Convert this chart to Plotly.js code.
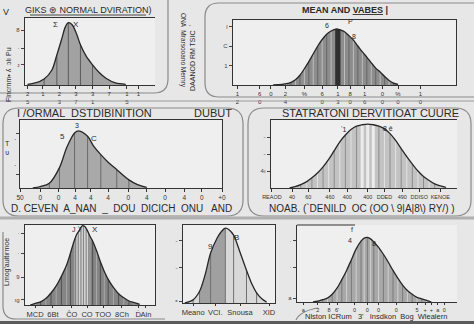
<!DOCTYPE html>
<html><head><meta charset="utf-8">
<script src="https://cdn.plot.ly/plotly-3.0.1.min.js"></script>
<style>html,body{margin:0;padding:0;background:#e7e7e7;}#chart{width:474px;height:324px;}</style>
</head><body><div id="chart"></div>
<script>
// ---------------- data ----------------
const aX=[0,0.6,1.3,1.9,2.3,2.7,2.95,3.2,3.5,3.85,4.15,4.6,5.1,5.6,6.15,6.9,7.7];
const aY=[0.01,0.03,0.09,0.22,0.45,0.7,0.86,0.93,0.9,0.76,0.6,0.43,0.3,0.19,0.1,0.03,0.01];
const aLines=[1.3,2.3,3.2,4.15,5.1];
const aTicks=[0,1.2,2.5,3.8,5.1,6.4,7.8,8.7];
const aTickText=['2<br>5','1','2<br>3','3<br>7','3<br>1','7','1<br>5','1'];

const bX=[1.8,2.0,2.2,2.4,2.6,2.8,3.0,3.2,3.4,3.6,3.8,4.0,4.2,4.4,4.6,4.7,4.8,5.0,5.2,5.4,5.6,5.8,6.0,6.2,6.4,6.6,6.8,7.0,7.2,7.4];
const bY=[0.0,0.005,0.01,0.02,0.04,0.08,0.15,0.25,0.36,0.48,0.6,0.7,0.78,0.83,0.86,0.86,0.85,0.82,0.76,0.69,0.6,0.51,0.43,0.34,0.26,0.2,0.13,0.07,0.03,0.01];
const bBand=[4.7];
const bTicks=[0.2,1.2,1.7,2.35,3.2,4.0,4.7,5.25,5.9,6.7,7.4,8.4];
const bTickText=['1<br>2','6<br>0','0','2<br>4','%','6<br>0','1<br>3','8<br>0','1<br>6','0<br>0','%<br>0','1<br>0'];

const cX=[0.7,1.1,1.6,2.15,2.55,2.97,3.2,3.68,4.0,4.4,4.8,5.27,5.93,6.4,6.9];
const cY=[0.0,0.02,0.07,0.3,0.6,0.81,0.84,0.76,0.62,0.49,0.38,0.27,0.12,0.05,0.01];
const cLines=[1.6,2.15,2.97,3.68,4.4,5.27,5.93];
const cTicks=[0,1.1,2.1,3,3.85,4.8,5.9,6.9,7.9,8.95,9.9,11];
const cTickText=['50','0','0','4','4','4','0','4','0','4','0','+0'];

const dX=[1.0,1.3,1.6,1.9,2.2,2.5,2.8,3.1,3.4,3.7,4.0,4.3,4.6,4.9,5.2,5.5,5.8,6.1,6.4,6.7,7.0,7.3,7.6,7.9,8.2,8.5,8.8,9.1,9.4];
const dY=[0.0,0.02,0.05,0.09,0.15,0.22,0.31,0.42,0.55,0.68,0.78,0.86,0.91,0.93,0.94,0.93,0.91,0.87,0.8,0.7,0.58,0.46,0.35,0.25,0.17,0.11,0.06,0.03,0.01];
const dTicks=[0.05,1.13,2.0,3.17,4.1,5.2,6.1,7.06,7.97,9.1];
const dTickText=['REAOD','40','60','460','400','400','DDED','490','DDISO','KENOE'];

const eX=[0.4,0.8,1.2,1.6,2.0,2.4,2.8,3.2,3.5,3.8,4.0,4.2,4.4,4.6,4.8,5.0,5.2,5.5,5.8,6.1,6.4,6.8,7.2,7.6,8.0,8.4,8.8];
const eY=[0.0,0.02,0.04,0.08,0.15,0.24,0.36,0.5,0.65,0.81,0.89,0.94,0.99,0.98,0.93,0.86,0.8,0.68,0.54,0.42,0.32,0.22,0.14,0.09,0.05,0.03,0.01];
const eTicks=[0.77,2.15,3.6,4.77,6.0,7.46,8.7,9.3];
const eTickText=['MCD','6Bt','ĈO','CO','TOO','8Ch','Ḋ','Ain'];

const fX=[0.2,1.1,1.8,2.4,3.0,3.7,4.2,4.6,5.0,5.5,6.2,6.9,7.5,8.0,8.6,9.1];
const fY=[0.0,0.04,0.15,0.36,0.64,0.83,0.92,0.96,0.94,0.87,0.65,0.42,0.24,0.13,0.05,0.01];
const fDarkX=[1.8,2.4,3.0,3.7,4.2,4.6];
const fLines=[1.1,1.8,3.0,4.6,5.5,6.9,8.0];
const fTicks=[1.1,3.5,6.2,9.35];
const fTickText=['Meano','VCI.','Snousa','XID'];

const gX=[1.0,1.3,1.6,1.9,2.2,2.5,2.8,3.1,3.4,3.7,4.0,4.2,4.4,4.6,4.8,5.1,5.4,5.7,6.0,6.3,6.6,6.9,7.2,7.5,7.8,8.1,8.4];
const gY=[0.0,0.01,0.03,0.05,0.1,0.18,0.29,0.41,0.55,0.69,0.79,0.83,0.84,0.82,0.78,0.71,0.62,0.52,0.41,0.31,0.22,0.15,0.1,0.06,0.04,0.02,0.0];
const gTicks=[0.4,1.3,2.0,2.5,3.6,4.4,5.1,6.2,7.5,8.0,8.4,8.8,9.2];
const gTickText=['a','2','8','6\'','0','0','0','0','5','+','+','a','0'];

// ---------------- helpers ----------------
const W=474,H=324,FONT='Liberation Sans, Arial, sans-serif';
const px=x=>x/W, py=y=>1-y/H;
const axn=(k,n)=>k+(n===1?'':n);

function fillTrace(X,Y,n,color){
  return {type:'scatter',mode:'lines',x:X,y:Y,xaxis:axn('x',n),yaxis:axn('y',n),
    line:{shape:'spline',smoothing:0.9,color:'rgba(0,0,0,0)',width:0},fill:'tozeroy',fillcolor:color,hoverinfo:'skip'};
}
function outline(X,Y,n){
  return {type:'scatter',mode:'lines',x:X,y:Y,xaxis:axn('x',n),yaxis:axn('y',n),
    line:{shape:'spline',smoothing:0.9,color:'#262626',width:1.3},hoverinfo:'skip'};
}
function stripes(xs,X,Y,n,color,w){
  const sx=[],sy=[];
  xs.forEach(v=>{const i=X.indexOf(v); if(i<0)return; sx.push(v,v,null); sy.push(0,Y[i],null);});
  return {type:'scatter',mode:'lines',x:sx,y:sy,xaxis:axn('x',n),yaxis:axn('y',n),
    line:{color:color,width:w},hoverinfo:'skip',connectgaps:false};
}
const every=(X,k,o)=>X.filter((v,i)=>i%k===o);
const between=(X,lo,hi)=>X.filter(v=>v>=lo&&v<=hi);

const traces=[
  fillTrace(aX,aY,1,'#a2a2a2'), stripes(aLines,aX,aY,1,'#5a5a5a',1), outline(aX,aY,1),
  fillTrace(bX,bY,2,'#8d8d8d'), stripes(every(bX,2,0),bX,bY,2,'#666',1), stripes(every(bX,2,1),bX,bY,2,'#bdbdbd',1),
  stripes(bBand,bX,bY,2,'#2f2f2f',5), outline(bX,bY,2),
  fillTrace(cX,cY,3,'#a9a9a9'), stripes(cLines,cX,cY,3,'#6a6a6a',1), outline(cX,cY,3),
  fillTrace(dX,dY,4,'#c3c3c3'), stripes(every(dX,2,0),dX,dY,4,'#8c8c8c',1), stripes(every(dX,2,1),dX,dY,4,'#e2e2e2',1),
  stripes(between(dX,4.8,5.6),dX,dY,4,'#ececec',3), outline(dX,dY,4),
  fillTrace(eX,eY,5,'#858585'), stripes(every(eX,2,0),eX,eY,5,'#505050',1), stripes(every(eX,2,1),eX,eY,5,'#a8a8a8',1),
  stripes(between(eX,4.0,4.8),eX,eY,5,'#d4d4d4',1.5), outline(eX,eY,5),
  fillTrace(fX,fY,6,'#d8d8d8'), fillTrace(fDarkX,fDarkX.map(v=>fY[fX.indexOf(v)]),6,'#a0a0a0'),
  stripes(fLines,fX,fY,6,'#707070',1), outline(fX,fY,6),
  fillTrace(gX,gY,7,'#a8a8a8'), stripes(every(gX,2,0),gX,gY,7,'#7a7a7a',1), stripes(every(gX,2,1),gX,gY,7,'#d0d0d0',1), outline(gX,gY,7)
];

function xa(n,x0,x1,range,tv,tt,fs,mirror,tl){
  return {domain:[px(x0),px(x1)],range:range,anchor:axn('y',n),showgrid:false,zeroline:false,showline:true,
    linecolor:'#333',linewidth:1.2,mirror:mirror,ticks:'outside',ticklen:tl||3,tickcolor:'#333',tickangle:0,
    tickvals:tv,ticktext:tt,tickfont:{family:FONT,size:fs,color:'#333'},fixedrange:true};
}
function ya(n,y0,y1,tv,tt,mirror){
  return {domain:[py(y1),py(y0)],range:[0,1],anchor:axn('x',n),showgrid:false,zeroline:false,showline:true,
    linecolor:'#333',linewidth:1.2,mirror:mirror,ticks:'outside',ticklen:3,tickcolor:'#444',tickangle:0,
    tickvals:tv,ticktext:tt,tickfont:{family:FONT,size:6,color:'#444'},fixedrange:true};
}

function rr(x0,y0,x1,y1,r){
  const P=(x,y)=>px(x).toFixed(4)+','+py(y).toFixed(4);
  return 'M'+P(x0+r,y0)+' L'+P(x1-r,y0)+' Q'+P(x1,y0)+' '+P(x1,y0+r)+' L'+P(x1,y1-r)+' Q'+P(x1,y1)+' '+P(x1-r,y1)+
    ' L'+P(x0+r,y1)+' Q'+P(x0,y1)+' '+P(x0,y1-r)+' L'+P(x0,y0+r)+' Q'+P(x0,y0)+' '+P(x0+r,y0)+' Z';
}
function pth(pts){
  return pts.map(p=>p[0]+p.slice(1).reduce((s,v,i)=>s+(i%2===0?px(v).toFixed(4)+',':py(v).toFixed(4)+' '),'')).join(' ');
}
const frame=(d,c,w)=>({type:'path',xref:'paper',yref:'paper',path:d,line:{color:c||'#8a8a8a',width:w||1.2},layer:'below'});
const hline=(x0,x1,y,c,w)=>({type:'line',xref:'paper',yref:'paper',x0:px(x0),x1:px(x1),y0:py(y),y1:py(y),line:{color:c,width:w},layer:'above'});

const shapes=[
  frame(rr(-30,-30,168,93,14)),
  frame(rr(205,3,500,97,14)),
  frame(rr(3,108,243,216,16)),
  frame(rr(248,108,471,216,16)),
  frame(pth([['M',3,232],['L',3,306],['Q',3,319,16,319],['L',165,319]])),
  frame(pth([['M',318,308],['Q',300,311,296,320]])),
  hline(0,474,101,'#9a9a9a',1),
  hline(0,474,218,'#b0b0b0',3),
  {type:'rect',xref:'paper',yref:'paper',x0:0,x1:1,y0:0,y1:py(321),fillcolor:'#5c5c5c',line:{width:0},layer:'above'},
  hline(30,146,15,'#444',1),
  hline(297,355,225,'#333',1.2)
];

function T(text,x,y,size,o){
  o=o||{};
  return Object.assign({xref:'paper',yref:'paper',x:px(x),y:py(y),text:text,showarrow:false,
    font:{family:FONT,size:size,color:o.color||'#2a2a2a'},xanchor:o.xa||'center',yanchor:'middle'},o.extra||{});
}
const annotations=[
  T('GIKS ⊛ NORMAL DVIRATION)',88,10,9),
  T('<b>MEAN AND <u>VABES</u> |</b>',345,10,9),
  T('I /ORMAL  DSTDIBINITION',15,113,11,{xa:'left'}),
  T('DUBUT',213,113,11),
  T('STATRATONI DERVITIOAT CUURE',370,113,11),
  T('D. CEVEN  A_NAN  _  DOU  DICICH  ONU   AND',121,208,10),
  T('NOAB. (`DENILD  OC (OO \\ 9|A|8\\) RY/) )',362,208,10),
  T('Nlston ICRum   3\'   Insdkon  Bog  Wlealern',376,316,7.5),
  T('Σ',55,24,8), T('X',76,24,8),
  T('6',327,25,7), T('P',350,22,7), T('8',354,36,7),
  T('5',62,136,8), T('3',77,126,7), T('C',94,138,8),
  T('ʼ1',344,129,7), T('8 ê',388,128,7),
  T('J ʼl',76,229,7), T('X',95,229,8),
  T('9',210,246,8), T('B',236,237,8),
  T('f',352,229,7), T('4',350,240,7), T('8',374,243,7),
  T('T<br>υ',8,148,7),
  T('V',6,12,9), T('Flncrnm• ʎ  ɔlı Pu',8,75,7,{extra:{textangle:-90}}),
  T('ONA  Mrarsooano Mernry',183,50,6.5,{extra:{textangle:90}}),
  T('DAANOD RM TSIC  ʼ',192,58,7,{extra:{textangle:-90}}),
  T('Lmog\'aultırmoe',7,262,7,{extra:{textangle:-90}}),
  T('·',15,140,7), T('·',15,165,7)
];

const layout={width:W,height:H,margin:{l:0,r:0,t:0,b:0},paper_bgcolor:'#e7e7e7',plot_bgcolor:'#efefef',
  showlegend:false,shapes:shapes,annotations:annotations,
  xaxis: xa(1,25,155,[-0.2,10],aTicks,aTickText,6,true),
  yaxis: ya(1,18,85,[0.3,0.55,0.82],['ᴊ','·','8'],false),
  xaxis2:xa(2,233,456,[0,10],bTicks,bTickText,6,true),
  yaxis2:ya(2,20,85,[0.3,0.6,0.9],['1','C','l'],true),
  xaxis3:xa(3,20,222,[0,11],cTicks,cTickText,6.5,true),
  yaxis3:ya(3,120,188,[0.2,0.8],['',''],true),
  xaxis4:xa(4,271,457,[0,10],dTicks,dTickText,5.5,true),
  yaxis4:ya(4,120,188,[0.25,0.5,0.75],['4ı','-','-'],false),
  xaxis5:xa(5,25,155,[0,10],eTicks,eTickText,7.5,true,2),
  yaxis5:ya(5,225,305,[0.07,0.35,0.65,0.9],['ıg','9','·','·'],true),
  xaxis6:xa(6,183,275,[0,10],fTicks,fTickText,7.5,true,2),
  yaxis6:ya(6,225,303,[0.02,0.45,0.8],['ᵃ','-','-'],true),
  xaxis7:xa(7,297,457,[0,10],gTicks,gTickText,5.5,false,2),
  yaxis7:ya(7,225,302,[0.05,0.45,0.8],['a','·','·'],false)
};
Plotly.newPlot('chart',traces,layout,{displayModeBar:false,staticPlot:true});
</script></body></html>
